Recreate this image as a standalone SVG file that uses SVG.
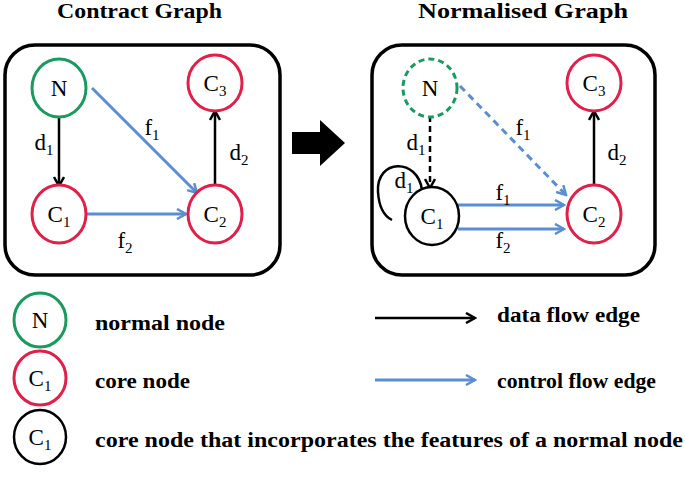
<svg xmlns="http://www.w3.org/2000/svg" width="685" height="482" viewBox="0 0 685 482">
<style>
.t{font-family:"Liberation Serif","DejaVu Serif",serif;font-weight:bold;font-size:20px;fill:#000}
.n{font-family:"Liberation Serif",serif;font-size:23px;fill:#000;text-anchor:middle}
.s{font-size:15px}
.g{fill:#fff;stroke:#1a9a5e;stroke-width:3}
.r{fill:#fff;stroke:#e0204a;stroke-width:3}
.k{fill:#fff;stroke:#000;stroke-width:2.5}
.box{fill:#fff;stroke:#000;stroke-width:3.5}
.d{stroke:#000;stroke-width:2.5;fill:none;marker-end:url(#ak)}
.c{stroke:#5a8ed0;stroke-width:3;fill:none;marker-end:url(#ab)}
</style>
<defs>
<marker id="ak" markerWidth="12" markerHeight="12" refX="10" refY="6" orient="auto" markerUnits="userSpaceOnUse"><path d="M1,1 L10,6 L1,11" fill="none" stroke="#000" stroke-width="2.5"/></marker>
<marker id="ab" markerWidth="12" markerHeight="12" refX="10" refY="6" orient="auto" markerUnits="userSpaceOnUse"><path d="M1,1 L10,6 L1,11" fill="none" stroke="#5a8ed0" stroke-width="2.5"/></marker>
</defs>
<text class="t" x="57" y="18" textLength="165" lengthAdjust="spacingAndGlyphs">Contract Graph</text>
<text class="t" x="418" y="18" textLength="210" lengthAdjust="spacingAndGlyphs">Normalised Graph</text>
<rect class="box" x="5" y="45" width="275" height="230" rx="30"/>
<rect class="box" x="372" y="45" width="283" height="230" rx="30"/>
<path d="M292,132 H320 V120 L345,143 L320,166 V154 H292 Z" fill="#000"/>
<g id="connectors">
<line class="d" x1="59" y1="116" x2="59" y2="186"/>
<line class="c" x1="92" y1="88" x2="197" y2="193"/>
<line class="c" x1="87" y1="214" x2="186" y2="214"/>
<line class="d" x1="215" y1="186" x2="215" y2="111"/>
<line class="d" x1="430" y1="116" x2="430" y2="188" stroke-dasharray="6,4"/>
<line class="c" x1="460" y1="86" x2="566" y2="195" stroke-dasharray="7,5"/>
<line class="c" x1="458" y1="205" x2="564" y2="205"/>
<line class="c" x1="458" y1="229" x2="564" y2="229"/>
<line class="d" x1="594" y1="186" x2="594" y2="111"/>
<path d="M422,190 C418,158 376,158 378,192 C379,208 384,216 392,220" fill="none" stroke="#000" stroke-width="2.5"/>
<line class="d" x1="375" y1="318" x2="475" y2="318"/>
<line class="c" x1="375" y1="380" x2="475" y2="380"/>
</g>
<text class="n" x="44" y="150">d<tspan class="s" dy="5">1</tspan></text>
<text class="n" x="152" y="135">f<tspan class="s" dy="5">1</tspan></text>
<text class="n" x="239" y="160">d<tspan class="s" dy="5">2</tspan></text>
<text class="n" x="125" y="248">f<tspan class="s" dy="5">2</tspan></text>
<text class="n" x="416" y="150">d<tspan class="s" dy="5">1</tspan></text>
<text class="n" x="404" y="188">d<tspan class="s" dy="5">1</tspan></text>
<text class="n" x="523" y="135">f<tspan class="s" dy="5">1</tspan></text>
<text class="n" x="617" y="160">d<tspan class="s" dy="5">2</tspan></text>
<text class="n" x="503" y="200">f<tspan class="s" dy="5">1</tspan></text>
<text class="n" x="503" y="248">f<tspan class="s" dy="5">2</tspan></text>
<g id="N1"><ellipse class="g" cx="59" cy="88" rx="27" ry="29"/><text class="n" x="59" y="96">N</text></g>
<g id="C3a"><ellipse class="r" cx="215" cy="83" rx="27" ry="28"/><text class="n" x="215" y="91">C<tspan class="s" dy="5">3</tspan></text></g>
<g id="C1a"><ellipse class="r" cx="59" cy="214" rx="27" ry="29"/><text class="n" x="59" y="222">C<tspan class="s" dy="5">1</tspan></text></g>
<g id="C2a"><ellipse class="r" cx="215" cy="214" rx="27" ry="29"/><text class="n" x="215" y="222">C<tspan class="s" dy="5">2</tspan></text></g>
<g id="N2"><ellipse class="g" cx="430" cy="88" rx="27" ry="29" stroke-dasharray="6,4"/><text class="n" x="430" y="96">N</text></g>
<g id="C3b"><ellipse class="r" cx="594" cy="83" rx="27" ry="28"/><text class="n" x="594" y="91">C<tspan class="s" dy="5">3</tspan></text></g>
<g id="C1b"><ellipse class="k" cx="432" cy="216" rx="27" ry="29"/><text class="n" x="432" y="224">C<tspan class="s" dy="5">1</tspan></text></g>
<g id="C2b"><ellipse class="r" cx="594" cy="214" rx="27" ry="29"/><text class="n" x="594" y="222">C<tspan class="s" dy="5">2</tspan></text></g>
<g id="legN"><ellipse class="g" cx="40" cy="320" rx="26" ry="27"/><text class="n" x="40" y="328">N</text></g>
<g id="legC"><ellipse class="r" cx="40" cy="378" rx="26" ry="27"/><text class="n" x="40" y="386">C<tspan class="s" dy="5">1</tspan></text></g>
<g id="legK"><ellipse class="k" cx="40" cy="437" rx="26" ry="27"/><text class="n" x="40" y="445">C<tspan class="s" dy="5">1</tspan></text></g>
<text class="t" x="95" y="330" textLength="130" lengthAdjust="spacingAndGlyphs">normal node</text>
<text class="t" x="95" y="388" textLength="95" lengthAdjust="spacingAndGlyphs">core node</text>
<text class="t" x="95" y="447" textLength="588" lengthAdjust="spacingAndGlyphs">core node that incorporates the features of a normal node</text>
<text class="t" x="497" y="322" textLength="143" lengthAdjust="spacingAndGlyphs">data flow edge</text>
<text class="t" x="497" y="388" textLength="159" lengthAdjust="spacingAndGlyphs">control flow edge</text>
</svg>
